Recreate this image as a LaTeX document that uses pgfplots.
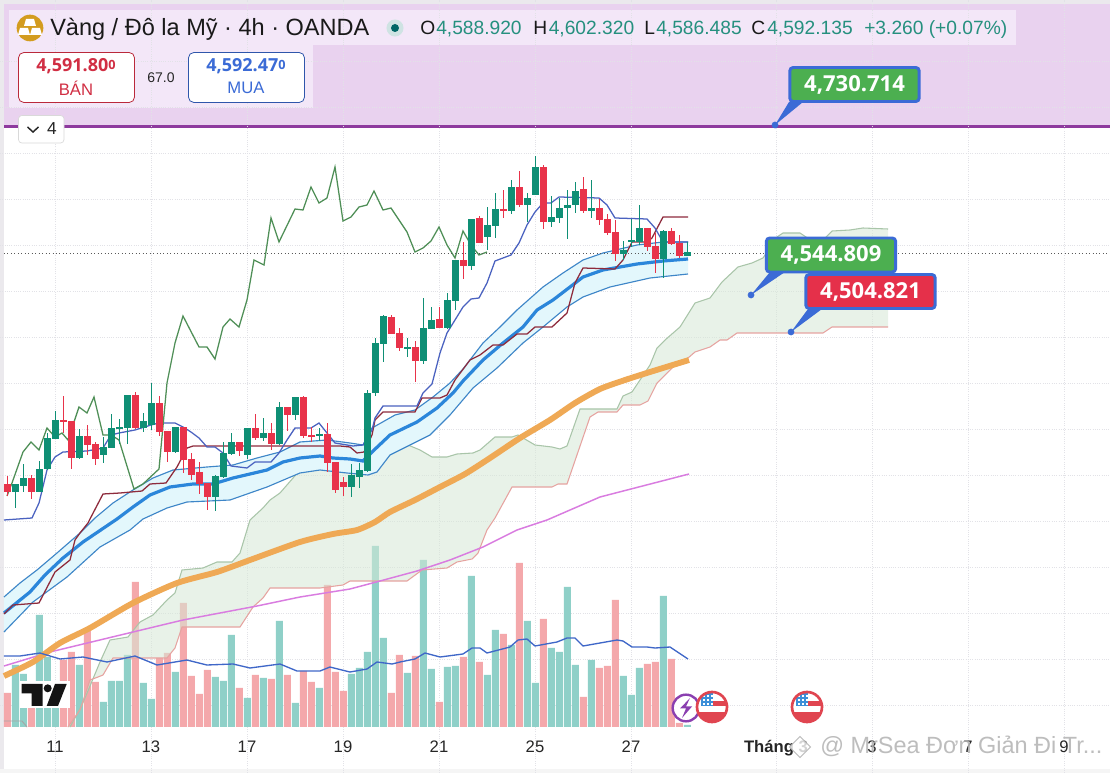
\documentclass[border=0pt]{standalone}
\usepackage{fontspec}
\setmainfont{Liberation Sans}
\newfontfamily\osb{Open Sans}
\usepackage{pgfplots}
\usepackage{pgfplotstable}
\pgfplotsset{compat=1.18}
\usetikzlibrary{shapes.geometric}
\definecolor{cup}{HTML}{0F8F75}
\definecolor{cdn}{HTML}{E8334A}
\definecolor{vup}{HTML}{8FD0C8}
\definecolor{vdn}{HTML}{F4A8AB}
\definecolor{purp}{HTML}{E9D2EF}
\definecolor{purpl}{HTML}{F3E7F8}
\definecolor{purpline}{HTML}{8E3A9E}
\definecolor{bandf}{HTML}{E3F7FC}
\definecolor{bandl}{HTML}{3E86C8}
\definecolor{midl}{HTML}{2B86DA}
\definecolor{kij}{HTML}{8E2B3C}
\definecolor{ten}{HTML}{4A62C0}
\definecolor{chi}{HTML}{4F8F57}
\definecolor{oran}{HTML}{EFA955}
\definecolor{pink}{HTML}{D97CE0}
\definecolor{volma}{HTML}{3F67C8}
\definecolor{kumof}{HTML}{D6E8D6}
\definecolor{kumoa}{HTML}{A9C5A9}
\definecolor{kumob}{HTML}{E6A3A0}
\definecolor{bblue}{HTML}{3B6BD6}
\definecolor{bgreen}{HTML}{4CAF50}
\definecolor{bred}{HTML}{E5304A}
\definecolor{hgreen}{HTML}{26907F}
\definecolor{gridc}{HTML}{E2E2E7}
\definecolor{edgeg}{HTML}{EBE9ED}
\definecolor{gold}{HTML}{D39C1F}
\definecolor{dotl}{HTML}{CFE3E3}
\definecolor{flagr}{HTML}{E04550}
\definecolor{flagb}{HTML}{3C8FD8}
\definecolor{evp}{HTML}{8A3FB0}
% k top bot high low volumeTop  (pixel rows of the screenshot)
\pgfplotstableread{
k top bot hi lo vt
1 484 492 484 508 665
2 478 486 464 492 674
4 469 492 461 492 615
5 438 469 433 470 657
6 420 439 411 439 695
9 436 458 429 459 665
12 447 455 437 463 702
13 428 448 414 448 681
14 427 428.5 419 444 681
15 395 428 395 444 655
17 421 428 413 432 683
18 403 425 383 430 699
21 427 452 427 453 672
26 476 497 475 511 677
27 453 477 442 478 681
28 442 454 433 455 635
30 428 455 428 459 698
32 433 438 418 441 678
34 407 444 402 445 621
36 397 415 397 420 703
39 434 435.5 428 441 688
43 475 487 464 497 674
44 470 477 463 488 668
45 393 471 390 472 652
46 343 393 338 396 546
47 316 344 315 362 638
50 347 348.5 338 357 673
52 328 361 298 364 560
53 320 329 307 329 669
55 300 328 293 329 667
56 260 301 260 310 666
58 219 266 219 270 576
60 225 237 207 250 675
61 209 226 193 238 630
63 187 211 180 214 645
65 198 205 193 222 621
66 167 195 156 195 683
68 217 222 196 227 648
69 208 218 198 223 652
70 205 208 190 239 587
71 191 205 182 213 665
73 208 211 180 218 660
77 250 254 241 260 676
78 240 242 219 247 695
79 228 242 205 245 668
82 231 259 230 278 596
85 252 256 242 256 725
}\upT
\pgfplotstableread{
k top bot hi lo vt
0 484 492 476 496 693
3 478 492 475 499 700
7 420 421.5 396 433 660
8 421 458 421 469 652
10 436 445 425 455 630
11 444 459 442 465 682
16 395 428 392 429 582
19 403 432 396 436 658
20 431 452 431 462 653
22 427 460 427 473 603
23 459 475 453 480 676
24 472 484 462 494 694
25 483 497 483 510 670
29 442 451 442 456 688
31 428 438 414 440 675
33 433 444 423 450 679
35 407 415 407 431 675
37 397 436 396 438 671
38 435 436.5 427 442 682
40 434 463 423 472 585
41 462 490 462 493 672
42 482 487 477 496 691
48 317 334 315 334 693
49 333 348 328 351 655
51 347 361 341 382 656
54 319 328 307 328 702
57 260 266 242 279 657
59 218 243 216 243 662
62 209 210.5 190 218 634
64 187 205 171 207 563
67 167 222 165 229 619
72 189 211 177 213 697
74 208 220 199 225 668
75 219 233 214 235 666
76 232 254 220 261 600
80 228 247 228 251 664
81 246 259 233 273 662
83 231 244 228 245 659
84 243 256 235 258 723
}\dnT
\newcommand{\fs}[1]{\fontsize{#1}{#1}\selectfont}
\pgfplotsset{
 wick/.style={draw=none,mark=none,forget plot,error bars/.cd,y dir=both,y explicit,error mark=none,error bar style={solid,line width=1pt,color=#1}},
 body/.style={draw=none,mark=none,forget plot,error bars/.cd,y dir=both,y explicit,error mark=none,error bar style={solid,line width=5.1pt,color=#1}}}
\begin{document}
\begin{tikzpicture}
\useasboundingbox (0,0) rectangle (832.5pt,579.75pt);
% page furniture
\begin{scope}[shift={(0pt,579.75pt)},x=0.75pt,y=-0.75pt]
\fill[white] (0,0) rectangle (1110,773);
\fill[purp] (4,4) rectangle (1110,126);
\fill[edgeg] (0,0) rectangle (4,773);
\fill[edgeg] (0,0) rectangle (1110,4);
\fill[gray!8] (0,769) rectangle (1110,773);
\fill[purpl] (9,10) rectangle (1016,45.5);
\fill[purpl] (9,45.5) rectangle (313,108);
\fill[purpline] (4,125.5) rectangle (1110,128.5);
\end{scope}
% volume pane, grid, time scale
\begin{axis}[
  at={(0,0)},anchor=south west,scale only axis,width=832.5pt,height=579.75pt,
  xmin=0,xmax=1110,ymin=-46,ymax=727,
  axis line style={draw=none},major tick length=0pt,
  xtick={55,151,247,343,439,535,631,776,872,968,1064},
  xticklabels={11,13,17,19,21,25,27,\textbf{Tháng 3},3,7,9},
  ytick={666,620,574,528,482,436,390,344,298,252,206,160,114,68,22},
  yticklabels={},
  x tick label style={font=\fs{12.5},text=black!85,anchor=base,yshift=15pt},
  xmajorgrids,ymajorgrids,
  major grid style={gridc,line width=0.7pt,densely dotted},
]
\addplot[ybar,bar width=5.25pt,bar shift=0pt,fill=vup,draw=none] table[x expr=7.3+8*\thisrow{k},y expr=727-\thisrow{vt}] {\upT};
\addplot[ybar,bar width=5.25pt,bar shift=0pt,fill=vdn,draw=none] table[x expr=7.3+8*\thisrow{k},y expr=727-\thisrow{vt}] {\dnT};
\end{axis}
% price pane
\begin{axis}[
  at={(0,0)},anchor=south west,scale only axis,width=832.5pt,height=579.75pt,
  xmin=0,xmax=1110,ymin=0,ymax=773,y dir=reverse,hide axis,
]
% cloud
\addplot[kumof,fill=kumof,fill opacity=0.55,draw=none] coordinates {
(70,727)(82,705)(90,686)(100,662)(110,640)(128,637)(140,622)(153,615)(167,600)(175,593)(182,570)(203,568)(217,562)(232,562)(240,553)(250,520)(263,508)(270,500)(280,493)(300,470)(320,460)(347,455)(363,453)(390,438)(408,445)(420,450)(432,457)(447,457)(457,454)(473,453)(480,450)(495,437)(512,437)(518,435)(535,445)(552,447)(560,449)(567,446)(580,409)(617,409)(623,396)(632,392)(650,365)(657,348)(665,340)(680,327)(695,303)(710,298)(722,282)(738,267)(752,263)(763,258)(777,237)(783,233)(800,233)(815,243)(823,240)(832,231)(850,230)(863,228)(888,229)
(888,327)(832,327)(823,333)(737,333)(727,340)(720,340)(710,347)(695,352)(688,358)(677,363)(667,373)(657,383)(648,401)(640,405)(623,405)(617,412)(598,412)(590,417)(567,484)(558,484)(552,487)(512,487)(495,518)(487,530)(478,553)(472,559)(457,562)(447,568)(422,570)(407,581)(350,581)(343,585)(320,588)(270,588)(263,598)(253,607)(240,627)(182,627)(175,648)(167,658)(113,658)(103,675)(98,677)(90,680)(80,710)(68,727)} -- cycle;
\addplot[kumoa,line width=0.8pt] coordinates {
(70,727)(82,705)(90,686)(100,662)(110,640)(128,637)(140,622)(153,615)(167,600)(175,593)(182,570)(203,568)(217,562)(232,562)(240,553)(250,520)(263,508)(270,500)(280,493)(300,470)(320,460)(347,455)(363,453)(390,438)(408,445)(420,450)(432,457)(447,457)(457,454)(473,453)(480,450)(495,437)(512,437)(518,435)(535,445)(552,447)(560,449)(567,446)(580,409)(617,409)(623,396)(632,392)(650,365)(657,348)(665,340)(680,327)(695,303)(710,298)(722,282)(738,267)(752,263)(763,258)(777,237)(783,233)(800,233)(815,243)(823,240)(832,231)(850,230)(863,228)(888,229)};
\addplot[kumob,line width=0.8pt] coordinates {
(68,727)(80,710)(90,680)(98,677)(103,675)(113,658)(167,658)(175,648)(182,627)(240,627)(253,607)(263,598)(270,588)(320,588)(343,585)(350,581)(407,581)(422,570)(447,568)(457,562)(472,559)(478,553)(487,530)(495,518)(512,487)(552,487)(558,484)(567,484)(590,417)(598,412)(617,412)(623,405)(640,405)(648,401)(657,383)(667,373)(677,363)(688,358)(695,352)(710,347)(720,340)(727,340)(737,333)(823,333)(832,327)(888,327)};
\addplot[gray!70,line width=0.7pt] coordinates {(4,721)(22,721)(27,727)};
% long averages
\addplot[pink,line width=1.1pt] coordinates {(4,666)(50,652)(133,632)(183,620)(257,606)(300,597)(350,589)(380,581)(417,571)(450,560)(483,547)(517,530)(547,520)(600,497)(689,474)};
\addplot[oran,line width=4.4pt,smooth,tension=0.4] coordinates {(4,676)(33,662)(60,643)(90,628)(133,603)(177,583)(217,572)(250,560)(300,542)(333,534)(357,530)(375,522)(390,512)(415,500)(440,487)(465,474)(490,458)(520,438)(550,420)(575,403)(600,389)(625,380)(650,372)(689,360)};
% band
\addplot[bandf,fill=bandf,draw=none] coordinates {(4,597)(20,583)(37,570)(57,553)(80,533)(95,518)(113,503)(133,490)(153,478)(173,470)(207,467)(233,465)(257,458)(280,452)(300,442)(327,440)(350,443)(363,445)(372,428)(395,415)(415,410)(433,397)(450,383)(463,369)(483,343)(500,327)(517,310)(543,287)(563,273)(583,260)(603,253)(637,245)(663,242)(688,242)
(688,274)(650,278)(610,287)(583,297)(567,307)(543,327)(523,343)(497,368)(473,388)(450,415)(430,435)(410,445)(390,455)(377,472)(368,475)(347,473)(320,470)(300,473)(267,487)(230,500)(187,502)(167,508)(143,519)(130,530)(100,547)(67,577)(33,602)(4,632)} -- cycle;
\addplot[bandl,line width=0.85pt] coordinates {(4,597)(20,583)(37,570)(57,553)(80,533)(95,518)(113,503)(133,490)(153,478)(173,470)(207,467)(233,465)(257,458)(280,452)(300,442)(327,440)(350,443)(363,445)(372,428)(395,415)(415,410)(433,397)(450,383)(463,369)(483,343)(500,327)(517,310)(543,287)(563,273)(583,260)(603,253)(637,245)(663,242)(688,242)};
\addplot[bandl,line width=0.85pt] coordinates {(4,632)(33,602)(67,577)(100,547)(130,530)(143,519)(167,508)(187,502)(230,500)(267,487)(300,473)(320,470)(347,473)(368,475)(377,472)(390,455)(410,445)(430,435)(450,415)(473,388)(497,368)(523,343)(543,327)(567,307)(583,297)(610,287)(650,278)(688,274)};
\addplot[midl,line width=2.4pt] coordinates {(4,613)(30,592)(45,575)(63,558)(83,542)(117,519)(133,507)(150,495)(170,487)(193,484)(213,484)(233,478)(267,470)(283,462)(300,458)(320,456)(333,458)(350,459)(363,461)(372,452)(390,435)(417,422)(437,408)(453,393)(463,381)(483,360)(503,343)(523,327)(537,310)(553,300)(570,287)(583,277)(603,270)(637,264)(663,261)(688,259)};
% base line, conversion line, lagging line
\addplot[kij,line width=0.95pt] coordinates {(4,614)(13,605)(39,603)(55,572)(70,560)(75,540)(80,533)(88,523)(90,519)(103,494)(120,493)(142,491)(150,484)(166,483)(177,467)(187,448)(193,446)(300,446)(340,446)(350,447)(357,453)(364,452)(372,435)(375,420)(383,412)(415,412)(422,398)(440,398)(447,395)(455,380)(470,360)(480,355)(493,345)(503,345)(517,334)(527,334)(535,327)(552,327)(567,313)(575,283)(583,268)(615,269)(623,260)(632,242)(647,242)(652,238)(663,217)(688,217)};
\addplot[ten,line width=0.95pt] coordinates {(4,520)(32,518)(39,503)(47,470)(55,457)(63,452)(87,451)(103,448)(111,435)(119,433)(135,430)(151,425)(159,423)(175,423)(183,427)(191,432)(199,438)(207,447)(215,447)(223,453)(231,466)(247,468)(255,462)(271,462)(279,453)(287,440)(295,428)(311,428)(319,423)(327,433)(335,443)(353,446)(363,445)(372,430)(375,418)(383,406)(417,406)(423,393)(432,384)(440,353)(447,333)(455,320)(463,307)(471,299)(479,298)(487,283)(495,261)(503,258)(511,255)(519,243)(527,225)(535,212)(543,203)(551,203)(559,197)(599,198)(607,205)(615,218)(647,219)(655,228)(663,242)(688,242)};
\addplot[chi,line width=0.95pt] coordinates {(7,496)(12,483)(23,452)(31,442)(39,450)(47,428)(55,437)(62,433)(68,440)(79,407)(87,413)(94,397)(103,435)(111,435)(119,440)(134,489)(143,484)(159,469)(167,383)(175,343)(183,316)(199,347)(207,347)(215,359)(223,327)(230,319)(239,327)(247,300)(254,260)(264,265)(271,218)(279,242)(295,209)(303,210)(311,187)(319,203)(327,198)(335,167)(343,221)(351,217)(359,207)(367,205)(374,191)(383,210)(391,208)(407,232)(415,252)(423,248)(431,241)(439,227)(447,245)(455,258)(463,231)(471,245)(479,255)(487,252)};
\addplot[volma,line width=1pt] coordinates {(4,656)(20,656)(40,653)(60,659)(83,657)(107,662)(135,656)(157,665)(187,660)(207,665)(233,664)(250,668)(280,664)(297,671)(320,671)(330,667)(350,672)(367,669)(377,662)(392,664)(400,662)(415,659)(425,653)(440,657)(463,654)(472,648)(480,648)(487,653)(510,647)(518,640)(527,639)(535,646)(557,642)(567,638)(575,638)(583,646)(600,643)(617,640)(623,641)(632,647)(647,647)(655,648)(670,647)(688,659)};
\addplot[black!65,line width=0.6pt,dotted] coordinates {(4,253)(1110,253)};
% candles
\addplot[wick=cup] table[x expr=7.3+8*\thisrow{k},y expr=(\thisrow{hi}+\thisrow{lo})/2,y error expr=(\thisrow{lo}-\thisrow{hi})/2] {\upT};
\addplot[body=cup] table[x expr=7.3+8*\thisrow{k},y expr=(\thisrow{top}+\thisrow{bot})/2,y error expr=(\thisrow{bot}-\thisrow{top})/2] {\upT};
\addplot[wick=cdn] table[x expr=7.3+8*\thisrow{k},y expr=(\thisrow{hi}+\thisrow{lo})/2,y error expr=(\thisrow{lo}-\thisrow{hi})/2] {\dnT};
\addplot[body=cdn] table[x expr=7.3+8*\thisrow{k},y expr=(\thisrow{top}+\thisrow{bot})/2,y error expr=(\thisrow{bot}-\thisrow{top})/2] {\dnT};
% price callouts
\tikzset{bub/.style={rounded corners=2.5pt,draw=bblue,line width=2.2pt,inner sep=0pt,minimum width=97pt,minimum height=25.5pt,text=white,font=\osb\fs{16.5}\bfseries}}
\fill[bblue] (775,125) -- (789,102) -- (803,102) -- cycle;
\node[bub,fill=bgreen] at (854.5,84.5) {4,730.714};
\fill[bblue] (751,295) -- (770,272) -- (785,272) -- cycle;
\node[bub,fill=bgreen] at (831,255) {4,544.809};
\fill[bblue] (791,332) -- (808,309) -- (822,309) -- cycle;
\node[bub,fill=bred] at (870.5,291.5) {4,504.821};
\addplot[only marks,mark=*,mark size=2.3pt,color=bblue] coordinates {(775,125)(751,295)(791,332)};
\end{axis}
% header, logos, watermark
\begin{scope}[shift={(0pt,579.75pt)},x=0.75pt,y=-0.75pt]
\fill[gold] (30,28) circle[radius=10pt];
\fill[white] (26,19) -- (34,19) -- (36,26) -- (24,26) -- cycle;
\fill[white] (20,28) -- (28,28) -- (30,35) -- (18,35) -- cycle;
\fill[white] (32,28) -- (40,28) -- (42,35) -- (30,35) -- cycle;
\node[anchor=base west,inner sep=0pt,font=\fs{17.65},text=black!90] at (50,36) {Vàng / Đô la Mỹ · 4h · OANDA};
\fill[dotl] (395,28) circle[radius=6.4pt];
\fill[teal!80!black] (395,28) circle[radius=3pt];
\tikzset{hd/.style={anchor=base west,inner sep=0pt,font=\fs{14.4}}}
\node[hd,text=black!90] at (420,34.5) {O};
\node[hd,text=hgreen] at (436,34.5) {4,588.920};
\node[hd,text=black!90] at (533,34.5) {H};
\node[hd,text=hgreen] at (548.5,34.5) {4,602.320};
\node[hd,text=black!90] at (644,34.5) {L};
\node[hd,text=hgreen] at (656,34.5) {4,586.485};
\node[hd,text=black!90] at (751,34.5) {C};
\node[hd,text=hgreen] at (767,34.5) {4,592.135};
\node[hd,text=hgreen] at (864,34.5) {+3.260 (+0.07\%)};
\draw[cdn!80!black,fill=white,rounded corners=4pt,line width=0.6pt] (18.5,52.5) rectangle (134.5,102.5);
\draw[bblue!80!black,fill=white,rounded corners=4pt,line width=0.6pt] (188.5,52.5) rectangle (304.5,102.5);
\node[font=\osb\fs{13.5}\bfseries,text=cdn!90!black,inner sep=0pt] at (76,66) {4,591.80{\raisebox{1.5pt}{\fs{9.5}0}}};
\node[font=\fs{12.5},text=cdn!90!black,inner sep=0pt] at (76,88) {BÁN};
\node[font=\osb\fs{13.5}\bfseries,text=bblue,inner sep=0pt] at (246,66) {4,592.47{\raisebox{1.5pt}{\fs{9.5}0}}};
\node[font=\fs{12.5},text=bblue,inner sep=0pt] at (246,88) {MUA};
\node[font=\fs{10.5},text=black!85,inner sep=0pt] at (161,78) {67.0};
\draw[gray!30,fill=white,rounded corners=2.5pt,line width=0.5pt] (18.5,115.5) rectangle (64,143);
\draw[black!85,line width=1.1pt] (27.5,127) -- (33,132) -- (38.5,127);
\node[font=\fs{13},text=black!85,inner sep=0pt] at (52,129) {4};
% vendor mark
\fill[white] (20,681) rectangle (70,708);
\fill[black!92] (21.7,684) -- (42.7,684) -- (42.7,706) -- (31.7,706) -- (31.7,693.3) -- (21.7,693.3) -- cycle;
\fill[black!92] (47.7,688.3) circle[radius=3pt];
\fill[black!92] (55,684) -- (66.7,684) -- (58,706) -- (46.7,706) -- cycle;
% event badges
\draw[evp,fill=white,line width=1.8pt] (686,708) circle[radius=10pt];
\fill[evp] (690,698) -- (680,708.5) -- (686,708.5) -- (682,718) -- (692,706.5) -- (686,706.5) -- cycle;
\foreach \fx in {712,807}{
  \begin{scope}
  \clip (\fx,707) circle[radius=11.25pt];
  \fill[white] (\fx-15,692) rectangle (\fx+15,722);
  \fill[flagr] (\fx-15,712) rectangle (\fx+15,722);
  \fill[flagr] (\fx,701) rectangle (\fx+15,706);
  \fill[flagb] (\fx-11,692) rectangle (\fx+1,706);
  \foreach \dx in {-8,-4,0}{\foreach \dy in {696,700,704}{\fill[white] (\fx+\dx-.8,\dy-.8) rectangle (\fx+\dx+.8,\dy+.8);}}
  \end{scope}
  \draw[flagr,line width=2pt] (\fx,707) circle[radius=11.25pt];
}
% watermark
\node[diamond,draw=gray!55,fill=white,line width=0.6pt,minimum width=16pt,minimum height=16pt,inner sep=0pt,fill opacity=0.8] at (800,747) {};
\node[anchor=base west,inner sep=0pt,font=\fs{17.6},text=gray!60,opacity=0.85] at (820,754) {@ MrSea Đơn Giản Đi Tr...};
\end{scope}
\end{tikzpicture}
\end{document}
